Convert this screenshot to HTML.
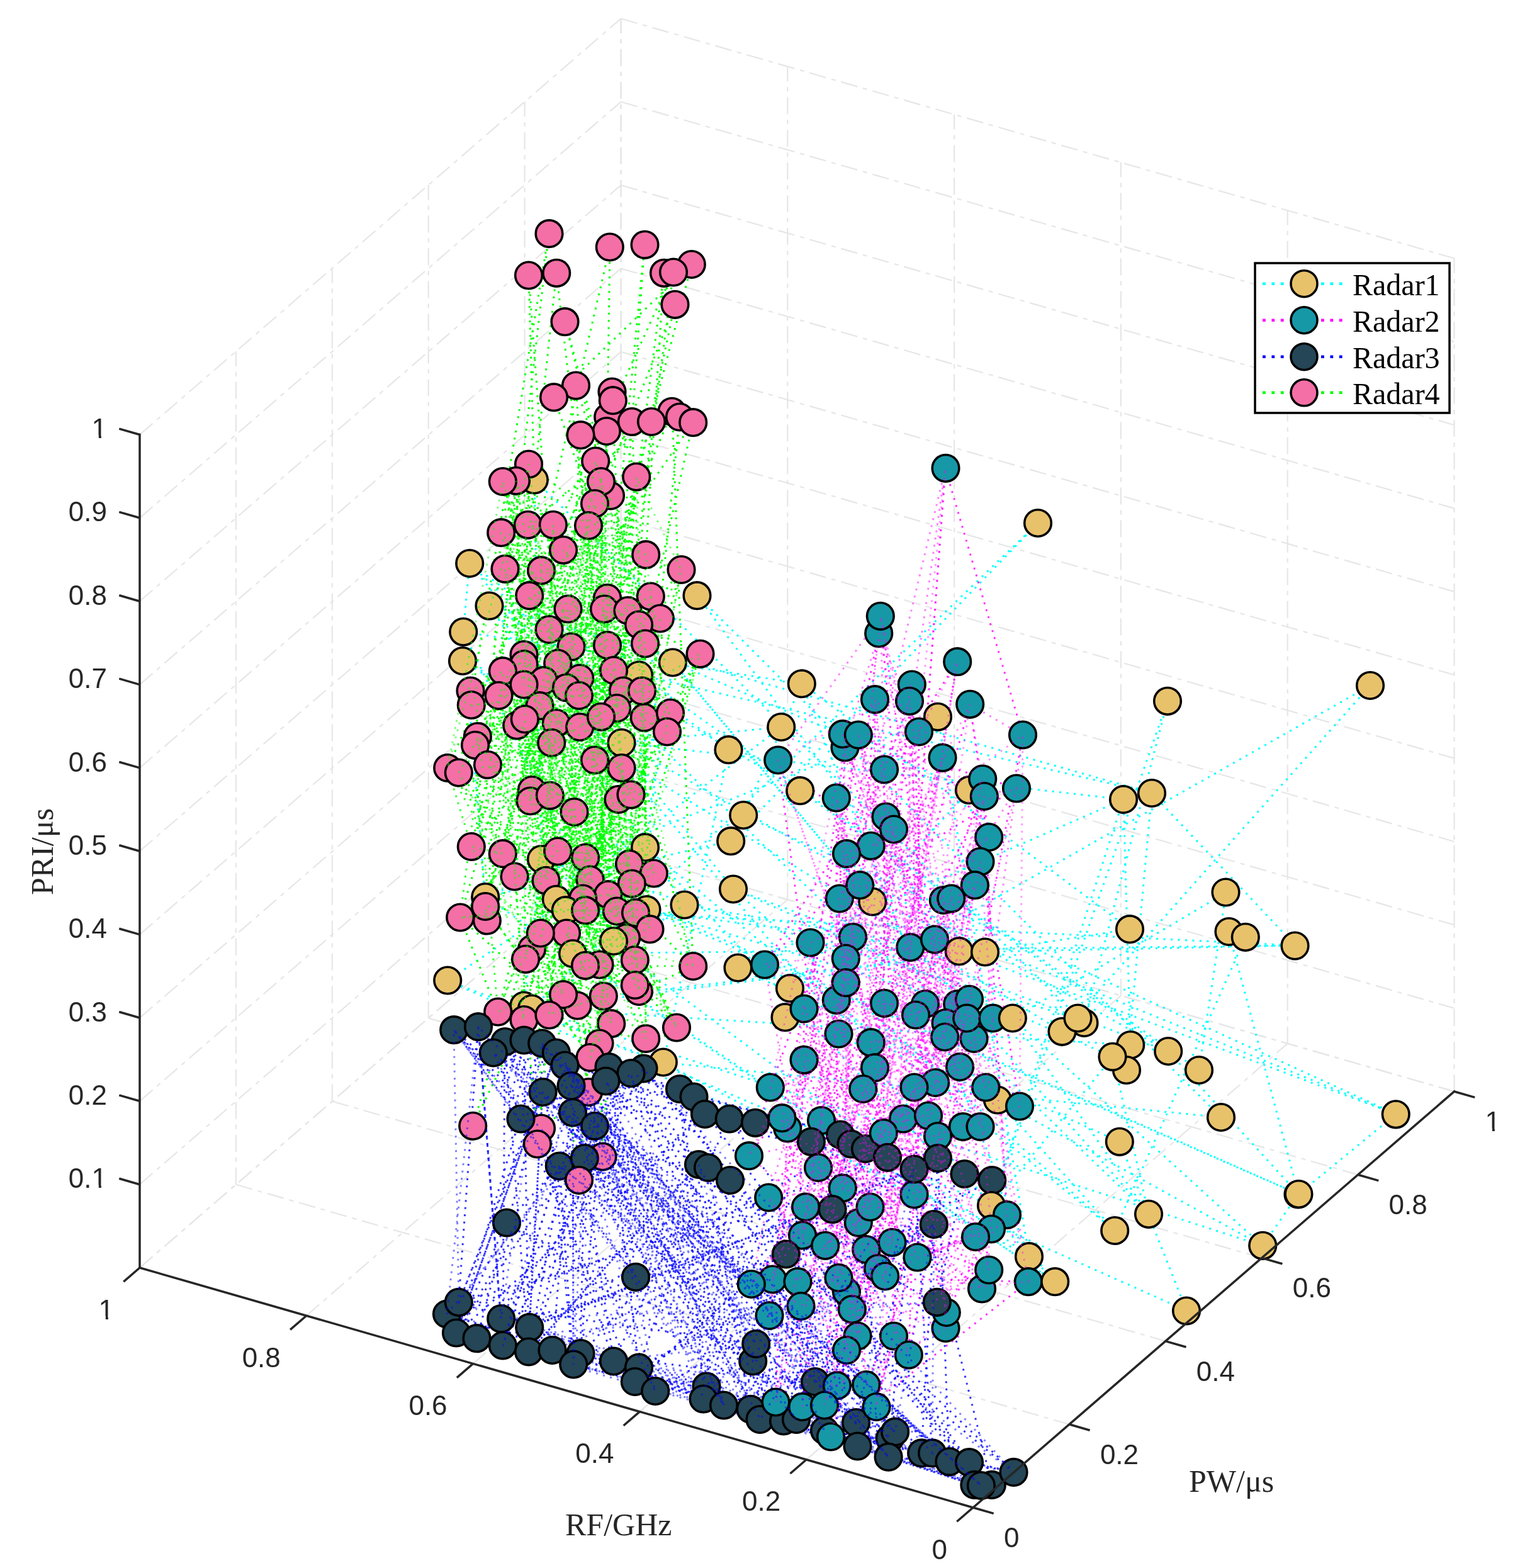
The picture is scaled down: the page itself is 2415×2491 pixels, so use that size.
<!DOCTYPE html>
<html><head><meta charset="utf-8"><title>Radar PDW 3D scatter</title><style>
html,body{margin:0;padding:0;background:#fff;overflow:hidden}
svg{display:block}
.g{stroke:#E6E6E6;stroke-width:2.2;fill:none;stroke-dasharray:27 9 7 9}
.ax{stroke:#262626;stroke-width:3.5;fill:none;stroke-linecap:square}
.tk{stroke:#262626;stroke-width:3.5;fill:none}
.tl{font-family:"Liberation Sans",Arial,sans-serif;font-size:44px;fill:#262626}
.lb{font-family:"Liberation Serif","Times New Roman",serif;font-size:50px;fill:#262626}
.lg{font-family:"Liberation Serif","Times New Roman",serif;font-size:48px;fill:#000}
circle{stroke:#000;stroke-width:3.6}
.y{fill:#E8C26B}
.t{fill:#1798A7}
.d{fill:#244656}
.p{fill:#F46FA6}
.dl{fill:none;stroke-width:3;stroke-dasharray:3 8.5}
.o4{opacity:0.4}
.o5{opacity:0.5}
.o8{opacity:0.8}
</style></head><body>
<svg width="2415" height="2491" viewBox="0 0 2415 2491">
<rect width="2415" height="2491" fill="#fff"/>
<g id="grid"><line class="g" x1="374.9" y1="1881.8" x2="374.9" y2="558.3"/><line class="g" x1="527.8" y1="1749.6" x2="527.8" y2="426.1"/><line class="g" x1="680.7" y1="1617.4" x2="680.7" y2="293.9"/><line class="g" x1="833.6" y1="1485.2" x2="833.6" y2="161.7"/><line class="g" x1="986.5" y1="1353.0" x2="986.5" y2="29.5"/><line class="g" x1="222.0" y1="2014.0" x2="986.5" y2="1353.0"/><line class="g" x1="222.0" y1="1881.7" x2="986.5" y2="1220.7"/><line class="g" x1="222.0" y1="1749.3" x2="986.5" y2="1088.3"/><line class="g" x1="222.0" y1="1617.0" x2="986.5" y2="956.0"/><line class="g" x1="222.0" y1="1484.6" x2="986.5" y2="823.6"/><line class="g" x1="222.0" y1="1352.2" x2="986.5" y2="691.2"/><line class="g" x1="222.0" y1="1219.9" x2="986.5" y2="558.9"/><line class="g" x1="222.0" y1="1087.6" x2="986.5" y2="426.6"/><line class="g" x1="222.0" y1="955.2" x2="986.5" y2="294.2"/><line class="g" x1="222.0" y1="822.8" x2="986.5" y2="161.8"/><line class="g" x1="222.0" y1="690.5" x2="986.5" y2="29.5"/><line class="g" x1="2310.5" y1="1734.0" x2="2310.5" y2="410.5"/><line class="g" x1="2045.7" y1="1657.8" x2="2045.7" y2="334.3"/><line class="g" x1="1780.9" y1="1581.6" x2="1780.9" y2="258.1"/><line class="g" x1="1516.1" y1="1505.4" x2="1516.1" y2="181.9"/><line class="g" x1="1251.3" y1="1429.2" x2="1251.3" y2="105.7"/><line class="g" x1="986.5" y1="1353.0" x2="986.5" y2="29.5"/><line class="g" x1="986.5" y1="1353.0" x2="2310.5" y2="1734.0"/><line class="g" x1="986.5" y1="1220.7" x2="2310.5" y2="1601.7"/><line class="g" x1="986.5" y1="1088.3" x2="2310.5" y2="1469.3"/><line class="g" x1="986.5" y1="956.0" x2="2310.5" y2="1337.0"/><line class="g" x1="986.5" y1="823.6" x2="2310.5" y2="1204.6"/><line class="g" x1="986.5" y1="691.2" x2="2310.5" y2="1072.2"/><line class="g" x1="986.5" y1="558.9" x2="2310.5" y2="939.9"/><line class="g" x1="986.5" y1="426.6" x2="2310.5" y2="807.6"/><line class="g" x1="986.5" y1="294.2" x2="2310.5" y2="675.2"/><line class="g" x1="986.5" y1="161.8" x2="2310.5" y2="542.8"/><line class="g" x1="986.5" y1="29.5" x2="2310.5" y2="410.5"/><line class="g" x1="1546.0" y1="2395.0" x2="2310.5" y2="1734.0"/><line class="g" x1="1281.2" y1="2318.8" x2="2045.7" y2="1657.8"/><line class="g" x1="1016.4" y1="2242.6" x2="1780.9" y2="1581.6"/><line class="g" x1="751.6" y1="2166.4" x2="1516.1" y2="1505.4"/><line class="g" x1="486.8" y1="2090.2" x2="1251.3" y2="1429.2"/><line class="g" x1="222.0" y1="2014.0" x2="986.5" y2="1353.0"/><line class="g" x1="222.0" y1="2014.0" x2="1546.0" y2="2395.0"/><line class="g" x1="374.9" y1="1881.8" x2="1698.9" y2="2262.8"/><line class="g" x1="527.8" y1="1749.6" x2="1851.8" y2="2130.6"/><line class="g" x1="680.7" y1="1617.4" x2="2004.7" y2="1998.4"/><line class="g" x1="833.6" y1="1485.2" x2="2157.6" y2="1866.2"/><line class="g" x1="986.5" y1="1353.0" x2="2310.5" y2="1734.0"/></g>
<g id="lines"><polyline class="dl" stroke="#00FFFF" points="1712,1618 860,1365 849,762 1722,1625 1855,1114 1575,1915 832,1598 2006,1979 2062,1898 2218,1770 1181,1295 1274,1086 1795,1476 1565,1512 845,1602 1649,831 1161,1336 771,1425 1490,1139 1635,1996 899,1446 2058,1502 910,1515 1676,2036 1025,1346 711,1558 1885,2082 1779,1814 1172,1538 1785,1270 1796,1660 1790,1700 1830,1260 1015,1072 1905,1700 1948,1418 1609,1618 1028,1445 2063,1897 1952,1480 1979,1489 1771,1955 1585,1748 1255,1570 1540,1255 1069,1052 1386,1432 1825,1929 1768,1679 1165,1412 1856,1670 1271,1256 778,962 1088,1438 975,1495 736,1004 746,895 1158,1191 1054,1688 1940,1775 1108,946 1524,1511 884,1429 1241,1155 988,1180 735,1050 1688,1639 2177,1089 1248,1616"/>
<polyline class="dl" stroke="#00FFFF" points="711,1558 1054,1688 1635,1996 1274,1086 736,1004 771,1425 1676,2036 778,962 1830,1260 2058,1502 1565,1512 832,1598 860,1365 2063,1897 1856,1670 988,1180 1785,1270 1575,1915 1768,1679 1796,1660 845,1602 1088,1438 1524,1511 2218,1770 1386,1432 1069,1052 1025,1346 1771,1955 1165,1412 746,895 1825,1929 1609,1618 2006,1979 1585,1748"/>
<polyline class="dl o8" stroke="#FF00FF" points="1549,1406 1392,2235 1420,2122 1408,1298 1521,1595 1405,1222 1404,1800 1355,1489 1418,1974 1499,1430 1236,1208 1354,2080 1540,1588 1339,1888 1490,1805 1364,1168 1222,2090 1530,1790 1525,1695 1470,1595 1449,1088 1345,2145 1305,1780 1558,1369 1620,1758 1485,1492 1452,1728 1501,1648 1399,979 1455,1612 1561,1238 1600,1930 1406,2028 1288,1498 1376,2200 1566,1728 1366,1406 1578,1618 1371,1730 1560,2048 1382,1918 1376,1985 1278,1684 1435,1778 1362,2122 1310,2232 1390,1111 1395,2015 1278,1602 1268,2036 1275,2235 1329,1589 1342,1188 1228,2032 1550,1965 1345,2052 1521,1051 1215,1532 1420,1318 1364,1942 1571,2018 1511,1428 1458,1998 1460,1162 1571,1330 1541,1119 1232,2228 1251,1792 1498,1204 1300,1855 1384,1656 1311,1979 1332,1642 1190,1836 1224,1728 1445,1114 1475,1772 1564,1265 1405,1594 1221,1902 1275,1962 1548,1650 1452,1898 1444,2152 1625,1168 1502,744 1446,1505 1344,1522 1345,1356 1280,1918 1242,1776 1396,1006 1272,2075 1575,1952 1504,2085 1502,2110 1384,1344 1339,1166 1615,1252 1334,1428 1536,1618 1194,2040 1502,1625 1390,1696 1332,2030 1634,2036 1320,2282 1486,1720 1330,2201 1329,1268 1344,1561 1558,1790"/>
<polyline class="dl o5" stroke="#FF00FF" points="1222,2090 1405,1222 1399,979 1236,1208 1435,1778 1530,1790 1420,1318 1345,1356 1329,1268 1405,1594 1615,1252 1408,1298 1525,1695 1364,1168 1452,1728 1390,1111 1376,1985 1345,2052 1502,2110 1625,1168 1541,1119 1564,1265 1364,1942 1320,2282 1355,1489 1329,1589 1390,1696 1560,2048 1280,1918 1332,2030 1288,1498 1499,1430 1446,1505 1445,1114 1300,1855 1452,1898 1332,1642 1232,2228 1406,2028 1190,1836 1475,1772 1330,2201 1215,1532 1278,1602 1536,1618 1470,1595 1550,1965 1485,1492 1342,1188 1396,1006 1460,1162 1278,1684 1558,1790 1566,1728 1242,1776 1548,1650 1224,1728 1311,1979 1490,1805 1600,1930 1392,2235 1420,2122 1449,1088 1455,1612 1486,1720 1384,1344 1221,1902 1194,2040 1578,1618 1561,1238 1458,1998 1575,1952 1339,1888 1502,744 1251,1792 1549,1406 1521,1595 1504,2085 1395,2015 1275,2235 1498,1204 1634,2036 1339,1166 1501,1648 1228,2032 1371,1730 1540,1588 1382,1918 1268,2036 1376,2200 1344,1522 1620,1758 1344,1561 1345,2145 1521,1051 1354,2080 1502,1625 1305,1780 1404,1800 1558,1369 1334,1428 1272,2075 1384,1656 1366,1406 1310,2232 1571,1330 1571,2018 1362,2122 1444,2152 1275,1962 1511,1428 1418,1974"/>
<polyline class="dl o8" stroke="#0000FF" points="760,1631 725,2118 884,1672 1010,2029 1110,1850 840,2148 1002,1705 1464,2308 1490,1840 1508,2322 908,1725 975,2162 802,1655 1265,2255 805,1942 725,2118 1002,1705 1310,2272 884,1672 1208,2255 910,1768 840,2148 802,1655 799,2138 760,1631 1422,2275 962,1718 1015,2172 1484,1945 1249,1992 1490,1840 878,2145 910,1768 1245,2258 862,1735 841,2109 1452,1858 729,2069 884,1672 725,2118 861,1658 911,2168 910,1768 1412,2315 929,1840 922,2150 962,1718 725,2118 884,1672 1208,2255 1484,1945 1245,2258 721,1636 1362,2298 1080,1730 758,2126 862,1735 841,2109 1452,1858 1414,2285 945,1789 1611,2339 962,1718 1150,2232 1080,1730 1118,2222 1160,1875 911,2168 889,1852 799,2138 1022,1698 1559,2360 784,1672 1009,2195 1322,1921 1010,2029 721,1636 1559,2360 929,1840 840,2148"/>
<polyline class="dl o8" stroke="#0000FF" points="911,2168 1265,2255 929,1840 884,1672 1412,2315 1508,2322 945,1789 889,1852 805,1942 1414,2285 1335,1802 721,1636 1200,1784 1352,1818 841,2109 1322,1921 1009,2195 1295,2195 878,2145 1548,2359 922,2150 1464,2308 1118,2222 1310,2272 1122,2202 796,2095 1002,1705 1196,2162 1576,2359 1452,1858 1481,2308 1611,2339 1208,2255 1532,1865 1489,2069 910,1768 760,1631 799,2138 1022,1698 1540,2323 1159,1778 975,2162 1150,2232 832,1652 840,2148 1110,1850 968,1695 1010,2029 1362,2298 828,1778 1160,1875 1249,1992 784,1672 1080,1730 861,1658 962,1718 1375,1825 1245,2258 898,1692 1201,2135 729,2069 862,1735 1576,1875 1015,2172 1125,1855 1192,2239 1410,1839 710,2088 1559,2360 1102,1742 1490,1840 1360,2260 758,2126 1120,1770 725,2118 1484,1945 1041,2210 802,1655 1422,2275 908,1725 1289,1814"/>
<polyline class="dl o5" stroke="#0000FF" points="1362,2298 1611,2339 1310,2272 922,2150 975,2162 729,2069 1464,2308 1508,2322 710,2088 1422,2275 796,2095 1489,2069 758,2126 725,2118 1412,2315 1009,2195 911,2168 1201,2135 1295,2195 1015,2172 1481,2308 1249,1992 878,2145 840,2148 1540,2323 1576,2359 1118,2222 799,2138 1192,2239 1548,2359 1150,2232 841,2109 1559,2360 1265,2255 1196,2162 1122,2202 1414,2285 1041,2210 1010,2029 1245,2258 1208,2255 1360,2260"/>
<polyline class="dl" stroke="#00FF00" points="748,1098 955,1139 1010,1450 1009,1525 799,1356 858,1121 1075,1632 860,1792 840,738 821,1152 920,1875 1024,389 930,1362 1032,1476 1020,1098 845,1508 1009,1565 874,1264 832,1088 945,800 755,1184 980,1125 959,1582 1034,948 835,1524 1025,1022 1026,1650 1024,1140 1004,670 799,1066 834,1142 820,764 792,1105 964,685 930,1534 998,970 880,631 1099,420 920,1105 972,622 1002,1262 859,1482 955,765 1049,982 921,1155 1011,758 974,636 921,1078 854,1818 818,1392 774,1462 884,434 982,1270 900,1482 711,1220 1070,432 918,1598 902,968 771,1440 938,1680 1039,1388 791,1608 965,950 971,1626 935,835 895,1580 860,906 1060,1162 960,968 886,1054 900,1092 922,691 1080,662 1004,1404 868,1399 990,1098 938,1398 1101,671 759,1170 864,1081 832,1055 966,1421 915,612 970,788 845,1255 884,1149 832,1040 935,1735 840,438 872,1612 995,1490 799,765 841,946 749,1120 975,1065 895,874 839,834 1035,670 988,1220 958,1838 952,1658 731,1458 966,662 926,1428 1055,434 1026,881 751,1789 1112,1039 1015,992 898,511 1065,1132 965,1025 832,1620 1072,484 872,1000 879,834 802,904 886,1352 952,1532 969,392 749,1345 946,732 1015,1575 1101,1535 1068,654 908,1028 980,1448 842,1272 729,1228 872,371 775,1215 796,846 945,1208 1000,1372 912,1290 930,1446 1082,905 876,1180"/>
<polyline class="dl" stroke="#00FF00" points="771,1440 748,1098 921,1078 796,846 1065,1132 832,1620 841,946 872,1000 842,1272 945,800 874,1264 895,1580 832,1088 918,1598 749,1120 729,1228 868,1399 1075,1632 834,1142 818,1392 926,1428 1011,758 952,1658 960,968 935,835 980,1448 845,1508 930,1446 998,970 990,1098 821,1152 995,1490 1049,982 965,1025 1101,1535 930,1362 774,1462 792,1105 859,1482 1002,1262 858,1121 946,732 759,1170 1024,1140 1025,1022 820,764 884,1149 864,1081 955,1139 845,1255 832,1055 802,904 1020,1098 902,968 1034,948 938,1398 1032,1476 799,1066 952,1532 966,1421 1010,1450 1009,1525 749,1345 975,1065 921,1155 1015,992 1000,1372 1015,1575 895,874 1082,905 938,1680 930,1534 1112,1039 1004,1404 900,1092 1026,1650 886,1352 832,1040 971,1626 959,1582 955,765 799,1356 879,834 945,1208 731,1458 791,1608 912,1290 900,1482 965,950 908,1028 1026,881 886,1054 755,1184 988,1220 982,1270 980,1125 839,834 840,738 775,1215 1039,1388 711,1220 1009,1565 835,1524 1060,1162 970,788 860,906 799,765 872,1612 920,1105 876,1180"/>
<polyline class="dl o8" stroke="#00FF00" points="1034,948 1020,1098 900,1482 1039,1388 966,1421 1009,1565 886,1054 859,1482 1009,1525 998,970 952,1532 1000,1372 975,1065 930,1362 1112,1039 799,1356 886,1352 839,834 938,1398 1060,1162 832,1088 1002,1262 930,1534 1101,1535 796,846 935,835 749,1345 711,1220 952,1658 921,1078 821,1152 842,1272 860,906 876,1180 774,1462 832,1040 900,1092 930,1446 799,765 872,1000 749,1120 912,1290 874,1264 845,1508 820,764 731,1458 945,1208 902,968 771,1440 938,1680 799,1066 926,1428 895,874 832,1055 845,1255 918,1598 955,765 895,1580 955,1139 729,1228 965,950 1024,1140 921,1155 858,1121 1004,1404 1025,1022 802,904 1015,1575 792,1105 818,1392 864,1081 1032,1476 840,738 1026,881 1010,1450 759,1170 1075,1632 834,1142 884,1149 920,1105 970,788 988,1220 982,1270 995,1490 1015,992 748,1098 960,968 879,834 1082,905 990,1098 755,1184 791,1608 1049,982 971,1626 835,1524 959,1582 1026,1650 832,1620 872,1612 946,732 965,1025 1011,758 980,1125 841,946 868,1399 945,800 980,1448 1065,1132 775,1215 908,1028"/></g>
<g id="pts"><circle class="d" cx="1192.5" cy="2238.8" r="21.3"/>
<circle class="d" cx="1207.5" cy="2255.0" r="21.3"/>
<circle class="d" cx="1245.0" cy="2257.5" r="21.3"/>
<circle class="d" cx="1265.0" cy="2255.0" r="21.3"/>
<circle class="d" cx="1310.0" cy="2272.5" r="21.3"/>
<circle class="d" cx="1360.0" cy="2260.0" r="21.3"/>
<circle class="d" cx="1413.7" cy="2285.3" r="21.3"/>
<circle class="d" cx="1422.1" cy="2274.7" r="21.3"/>
<circle class="p" cx="872.5" cy="371.2" r="21.3"/>
<circle class="p" cx="968.8" cy="392.5" r="21.3"/>
<circle class="p" cx="1024.5" cy="388.8" r="21.3"/>
<circle class="p" cx="840.0" cy="437.5" r="21.3"/>
<circle class="p" cx="884.2" cy="433.8" r="21.3"/>
<circle class="p" cx="1098.8" cy="420.0" r="21.3"/>
<circle class="p" cx="1055.0" cy="433.8" r="21.3"/>
<circle class="p" cx="1070.0" cy="432.5" r="21.3"/>
<circle class="p" cx="1072.5" cy="483.8" r="21.3"/>
<circle class="p" cx="897.5" cy="511.2" r="21.3"/>
<circle class="p" cx="915.0" cy="612.5" r="21.3"/>
<circle class="p" cx="880.0" cy="631.2" r="21.3"/>
<circle class="p" cx="972.5" cy="622.5" r="21.3"/>
<circle class="p" cx="966.2" cy="662.5" r="21.3"/>
<circle class="p" cx="973.8" cy="636.2" r="21.3"/>
<circle class="p" cx="1067.5" cy="653.8" r="21.3"/>
<circle class="p" cx="1080.0" cy="662.5" r="21.3"/>
<circle class="p" cx="1101.2" cy="671.2" r="21.3"/>
<circle class="p" cx="1003.8" cy="670.0" r="21.3"/>
<circle class="p" cx="1035.0" cy="670.0" r="21.3"/>
<circle class="p" cx="963.8" cy="685.0" r="21.3"/>
<circle class="p" cx="922.5" cy="691.2" r="21.3"/>
<circle class="y" cx="848.8" cy="762.5" r="21.3"/>
<circle class="p" cx="840.0" cy="737.5" r="21.3"/>
<circle class="p" cx="820.0" cy="763.8" r="21.3"/>
<circle class="p" cx="798.8" cy="765.0" r="21.3"/>
<circle class="p" cx="946.2" cy="732.5" r="21.3"/>
<circle class="p" cx="970.0" cy="787.5" r="21.3"/>
<circle class="p" cx="955.0" cy="765.0" r="21.3"/>
<circle class="p" cx="1011.2" cy="757.5" r="21.3"/>
<circle class="p" cx="945.0" cy="800.0" r="21.3"/>
<circle class="t" cx="1502.5" cy="743.8" r="21.3"/>
<circle class="y" cx="1649.0" cy="831.0" r="21.3"/>
<circle class="p" cx="796.2" cy="846.2" r="21.3"/>
<circle class="p" cx="838.8" cy="833.8" r="21.3"/>
<circle class="p" cx="878.8" cy="833.8" r="21.3"/>
<circle class="p" cx="935.0" cy="835.0" r="21.3"/>
<circle class="p" cx="895.0" cy="873.8" r="21.3"/>
<circle class="p" cx="1026.2" cy="881.2" r="21.3"/>
<circle class="p" cx="1082.5" cy="905.0" r="21.3"/>
<circle class="y" cx="746.2" cy="895.0" r="21.3"/>
<circle class="p" cx="802.5" cy="903.8" r="21.3"/>
<circle class="p" cx="860.0" cy="906.2" r="21.3"/>
<circle class="y" cx="1107.5" cy="946.2" r="21.3"/>
<circle class="p" cx="1033.8" cy="947.5" r="21.3"/>
<circle class="p" cx="841.2" cy="946.2" r="21.3"/>
<circle class="y" cx="777.5" cy="962.5" r="21.3"/>
<circle class="p" cx="965.0" cy="950.0" r="21.3"/>
<circle class="p" cx="902.5" cy="967.5" r="21.3"/>
<circle class="p" cx="960.0" cy="967.5" r="21.3"/>
<circle class="p" cx="997.5" cy="970.0" r="21.3"/>
<circle class="p" cx="1048.8" cy="982.5" r="21.3"/>
<circle class="p" cx="1015.0" cy="992.5" r="21.3"/>
<circle class="p" cx="872.5" cy="1000.0" r="21.3"/>
<circle class="y" cx="736.2" cy="1003.8" r="21.3"/>
<circle class="y" cx="735.0" cy="1050.0" r="21.3"/>
<circle class="p" cx="1025.0" cy="1022.5" r="21.3"/>
<circle class="p" cx="965.0" cy="1025.0" r="21.3"/>
<circle class="p" cx="907.5" cy="1027.5" r="21.3"/>
<circle class="p" cx="832.5" cy="1040.0" r="21.3"/>
<circle class="p" cx="832.5" cy="1055.0" r="21.3"/>
<circle class="p" cx="886.2" cy="1053.8" r="21.3"/>
<circle class="y" cx="1068.8" cy="1052.5" r="21.3"/>
<circle class="p" cx="1112.5" cy="1038.8" r="21.3"/>
<circle class="y" cx="1015.0" cy="1072.5" r="21.3"/>
<circle class="p" cx="975.0" cy="1065.0" r="21.3"/>
<circle class="p" cx="798.8" cy="1066.2" r="21.3"/>
<circle class="p" cx="863.8" cy="1081.2" r="21.3"/>
<circle class="p" cx="921.2" cy="1077.5" r="21.3"/>
<circle class="p" cx="832.5" cy="1087.5" r="21.3"/>
<circle class="p" cx="900.0" cy="1092.5" r="21.3"/>
<circle class="p" cx="920.0" cy="1105.0" r="21.3"/>
<circle class="p" cx="990.0" cy="1097.5" r="21.3"/>
<circle class="p" cx="1020.0" cy="1097.5" r="21.3"/>
<circle class="p" cx="747.5" cy="1097.5" r="21.3"/>
<circle class="p" cx="748.8" cy="1120.0" r="21.3"/>
<circle class="p" cx="792.5" cy="1105.0" r="21.3"/>
<circle class="p" cx="857.5" cy="1121.2" r="21.3"/>
<circle class="p" cx="821.2" cy="1152.5" r="21.3"/>
<circle class="p" cx="833.8" cy="1142.5" r="21.3"/>
<circle class="p" cx="883.8" cy="1148.8" r="21.3"/>
<circle class="p" cx="921.2" cy="1155.0" r="21.3"/>
<circle class="p" cx="980.0" cy="1125.0" r="21.3"/>
<circle class="p" cx="955.0" cy="1138.8" r="21.3"/>
<circle class="p" cx="1023.8" cy="1140.0" r="21.3"/>
<circle class="p" cx="1065.0" cy="1132.5" r="21.3"/>
<circle class="p" cx="1060.0" cy="1162.5" r="21.3"/>
<circle class="p" cx="876.2" cy="1180.0" r="21.3"/>
<circle class="p" cx="758.8" cy="1170.0" r="21.3"/>
<circle class="p" cx="755.0" cy="1183.8" r="21.3"/>
<circle class="y" cx="987.5" cy="1180.0" r="21.3"/>
<circle class="p" cx="945.0" cy="1207.5" r="21.3"/>
<circle class="p" cx="987.5" cy="1220.0" r="21.3"/>
<circle class="p" cx="711.2" cy="1220.0" r="21.3"/>
<circle class="p" cx="728.8" cy="1227.5" r="21.3"/>
<circle class="p" cx="775.0" cy="1215.0" r="21.3"/>
<circle class="p" cx="845.0" cy="1255.0" r="21.3"/>
<circle class="p" cx="842.5" cy="1272.5" r="21.3"/>
<circle class="p" cx="873.8" cy="1263.8" r="21.3"/>
<circle class="p" cx="912.5" cy="1290.0" r="21.3"/>
<circle class="p" cx="982.5" cy="1270.0" r="21.3"/>
<circle class="p" cx="1002.5" cy="1262.5" r="21.3"/>
<circle class="t" cx="1396.2" cy="1006.2" r="21.3"/>
<circle class="t" cx="1398.8" cy="978.8" r="21.3"/>
<circle class="t" cx="1521.2" cy="1051.2" r="21.3"/>
<circle class="y" cx="1273.8" cy="1086.2" r="21.3"/>
<circle class="t" cx="1390.0" cy="1111.2" r="21.3"/>
<circle class="t" cx="1448.8" cy="1087.5" r="21.3"/>
<circle class="t" cx="1445.0" cy="1113.8" r="21.3"/>
<circle class="y" cx="1490.0" cy="1138.8" r="21.3"/>
<circle class="t" cx="1541.2" cy="1118.8" r="21.3"/>
<circle class="t" cx="1460.0" cy="1162.5" r="21.3"/>
<circle class="y" cx="1241.2" cy="1155.0" r="21.3"/>
<circle class="y" cx="1157.5" cy="1191.2" r="21.3"/>
<circle class="t" cx="1342.5" cy="1187.5" r="21.3"/>
<circle class="t" cx="1338.8" cy="1166.2" r="21.3"/>
<circle class="t" cx="1363.8" cy="1167.5" r="21.3"/>
<circle class="t" cx="1236.2" cy="1207.5" r="21.3"/>
<circle class="t" cx="1497.5" cy="1203.8" r="21.3"/>
<circle class="t" cx="1405.0" cy="1222.5" r="21.3"/>
<circle class="y" cx="1540.0" cy="1255.0" r="21.3"/>
<circle class="t" cx="1561.2" cy="1237.5" r="21.3"/>
<circle class="t" cx="1563.8" cy="1265.0" r="21.3"/>
<circle class="y" cx="1271.2" cy="1256.2" r="21.3"/>
<circle class="t" cx="1328.8" cy="1267.5" r="21.3"/>
<circle class="t" cx="1625.0" cy="1167.5" r="21.3"/>
<circle class="t" cx="1615.0" cy="1252.5" r="21.3"/>
<circle class="y" cx="1855.0" cy="1113.8" r="21.3"/>
<circle class="y" cx="1785.0" cy="1270.0" r="21.3"/>
<circle class="y" cx="1830.0" cy="1260.0" r="21.3"/>
<circle class="y" cx="2177.0" cy="1089.0" r="21.3"/>
<circle class="p" cx="748.8" cy="1345.0" r="21.3"/>
<circle class="p" cx="798.8" cy="1356.2" r="21.3"/>
<circle class="p" cx="817.5" cy="1392.5" r="21.3"/>
<circle class="y" cx="860.0" cy="1365.0" r="21.3"/>
<circle class="p" cx="886.2" cy="1352.5" r="21.3"/>
<circle class="p" cx="930.0" cy="1362.5" r="21.3"/>
<circle class="y" cx="1025.0" cy="1346.2" r="21.3"/>
<circle class="p" cx="1000.0" cy="1372.5" r="21.3"/>
<circle class="p" cx="1038.8" cy="1387.5" r="21.3"/>
<circle class="p" cx="867.5" cy="1398.8" r="21.3"/>
<circle class="p" cx="937.5" cy="1397.5" r="21.3"/>
<circle class="p" cx="1003.8" cy="1403.8" r="21.3"/>
<circle class="p" cx="966.2" cy="1421.2" r="21.3"/>
<circle class="y" cx="771.2" cy="1425.0" r="21.3"/>
<circle class="p" cx="773.8" cy="1462.5" r="21.3"/>
<circle class="p" cx="771.2" cy="1440.0" r="21.3"/>
<circle class="p" cx="731.2" cy="1457.5" r="21.3"/>
<circle class="y" cx="883.8" cy="1428.8" r="21.3"/>
<circle class="p" cx="926.2" cy="1427.5" r="21.3"/>
<circle class="y" cx="898.8" cy="1446.2" r="21.3"/>
<circle class="p" cx="930.0" cy="1446.2" r="21.3"/>
<circle class="y" cx="1027.5" cy="1445.0" r="21.3"/>
<circle class="p" cx="980.0" cy="1447.5" r="21.3"/>
<circle class="p" cx="1010.0" cy="1450.0" r="21.3"/>
<circle class="y" cx="1087.5" cy="1437.5" r="21.3"/>
<circle class="p" cx="1032.5" cy="1476.2" r="21.3"/>
<circle class="p" cx="900.0" cy="1482.5" r="21.3"/>
<circle class="p" cx="845.0" cy="1507.5" r="21.3"/>
<circle class="p" cx="835.0" cy="1523.8" r="21.3"/>
<circle class="p" cx="858.8" cy="1482.5" r="21.3"/>
<circle class="p" cx="995.0" cy="1490.0" r="21.3"/>
<circle class="y" cx="975.0" cy="1495.0" r="21.3"/>
<circle class="y" cx="910.0" cy="1515.0" r="21.3"/>
<circle class="p" cx="952.5" cy="1532.5" r="21.3"/>
<circle class="p" cx="930.0" cy="1533.8" r="21.3"/>
<circle class="p" cx="1008.8" cy="1525.0" r="21.3"/>
<circle class="p" cx="1015.0" cy="1575.0" r="21.3"/>
<circle class="p" cx="1008.8" cy="1565.0" r="21.3"/>
<circle class="p" cx="1101.2" cy="1535.0" r="21.3"/>
<circle class="y" cx="711.2" cy="1557.5" r="21.3"/>
<circle class="p" cx="917.5" cy="1597.5" r="21.3"/>
<circle class="p" cx="895.0" cy="1580.0" r="21.3"/>
<circle class="p" cx="958.8" cy="1582.5" r="21.3"/>
<circle class="y" cx="832.5" cy="1597.5" r="21.3"/>
<circle class="y" cx="845.0" cy="1602.5" r="21.3"/>
<circle class="p" cx="791.2" cy="1607.5" r="21.3"/>
<circle class="p" cx="832.5" cy="1620.0" r="21.3"/>
<circle class="p" cx="872.5" cy="1612.5" r="21.3"/>
<circle class="p" cx="971.2" cy="1626.2" r="21.3"/>
<circle class="p" cx="1075.0" cy="1632.5" r="21.3"/>
<circle class="p" cx="1026.2" cy="1650.0" r="21.3"/>
<circle class="d" cx="721.2" cy="1636.2" r="21.3"/>
<circle class="d" cx="760.0" cy="1631.2" r="21.3"/>
<circle class="d" cx="802.5" cy="1655.0" r="21.3"/>
<circle class="d" cx="783.8" cy="1672.5" r="21.3"/>
<circle class="d" cx="832.5" cy="1652.5" r="21.3"/>
<circle class="d" cx="861.2" cy="1657.5" r="21.3"/>
<circle class="d" cx="883.8" cy="1672.5" r="21.3"/>
<circle class="p" cx="952.5" cy="1657.5" r="21.3"/>
<circle class="p" cx="937.5" cy="1680.0" r="21.3"/>
<circle class="d" cx="897.5" cy="1692.5" r="21.3"/>
<circle class="y" cx="1053.8" cy="1687.5" r="21.3"/>
<circle class="d" cx="1022.5" cy="1697.5" r="21.3"/>
<circle class="d" cx="967.5" cy="1695.0" r="21.3"/>
<circle class="d" cx="1002.5" cy="1705.0" r="21.3"/>
<circle class="p" cx="935.0" cy="1735.0" r="21.3"/>
<circle class="d" cx="962.5" cy="1717.5" r="21.3"/>
<circle class="d" cx="907.5" cy="1725.0" r="21.3"/>
<circle class="d" cx="862.5" cy="1735.0" r="21.3"/>
<circle class="d" cx="1080.0" cy="1730.0" r="21.3"/>
<circle class="d" cx="1102.5" cy="1742.5" r="21.3"/>
<circle class="y" cx="1181.2" cy="1295.0" r="21.3"/>
<circle class="y" cx="1161.2" cy="1336.2" r="21.3"/>
<circle class="y" cx="1165.0" cy="1412.5" r="21.3"/>
<circle class="t" cx="1407.5" cy="1297.5" r="21.3"/>
<circle class="t" cx="1420.0" cy="1317.5" r="21.3"/>
<circle class="t" cx="1383.8" cy="1343.8" r="21.3"/>
<circle class="t" cx="1345.0" cy="1356.2" r="21.3"/>
<circle class="t" cx="1571.2" cy="1330.0" r="21.3"/>
<circle class="t" cx="1557.5" cy="1368.8" r="21.3"/>
<circle class="t" cx="1548.8" cy="1406.2" r="21.3"/>
<circle class="t" cx="1498.8" cy="1430.0" r="21.3"/>
<circle class="t" cx="1511.2" cy="1427.5" r="21.3"/>
<circle class="y" cx="1386.2" cy="1432.5" r="21.3"/>
<circle class="t" cx="1333.8" cy="1427.5" r="21.3"/>
<circle class="t" cx="1366.2" cy="1406.2" r="21.3"/>
<circle class="t" cx="1287.5" cy="1497.5" r="21.3"/>
<circle class="t" cx="1355.0" cy="1488.8" r="21.3"/>
<circle class="t" cx="1343.8" cy="1522.5" r="21.3"/>
<circle class="t" cx="1328.8" cy="1588.8" r="21.3"/>
<circle class="t" cx="1343.8" cy="1561.2" r="21.3"/>
<circle class="t" cx="1446.2" cy="1505.0" r="21.3"/>
<circle class="t" cx="1485.0" cy="1492.5" r="21.3"/>
<circle class="y" cx="1523.8" cy="1511.2" r="21.3"/>
<circle class="y" cx="1565.0" cy="1512.5" r="21.3"/>
<circle class="y" cx="1172.5" cy="1537.5" r="21.3"/>
<circle class="t" cx="1215.0" cy="1532.5" r="21.3"/>
<circle class="y" cx="1255.0" cy="1570.0" r="21.3"/>
<circle class="y" cx="1247.5" cy="1616.2" r="21.3"/>
<circle class="t" cx="1277.5" cy="1602.5" r="21.3"/>
<circle class="t" cx="1405.0" cy="1593.8" r="21.3"/>
<circle class="t" cx="1470.0" cy="1595.0" r="21.3"/>
<circle class="t" cx="1455.0" cy="1612.5" r="21.3"/>
<circle class="t" cx="1521.2" cy="1595.0" r="21.3"/>
<circle class="t" cx="1540.0" cy="1587.5" r="21.3"/>
<circle class="t" cx="1502.5" cy="1625.0" r="21.3"/>
<circle class="t" cx="1501.2" cy="1647.5" r="21.3"/>
<circle class="t" cx="1547.5" cy="1650.0" r="21.3"/>
<circle class="t" cx="1536.2" cy="1617.5" r="21.3"/>
<circle class="t" cx="1577.5" cy="1617.5" r="21.3"/>
<circle class="y" cx="1608.8" cy="1617.5" r="21.3"/>
<circle class="t" cx="1332.5" cy="1642.5" r="21.3"/>
<circle class="t" cx="1383.8" cy="1656.2" r="21.3"/>
<circle class="t" cx="1277.5" cy="1683.8" r="21.3"/>
<circle class="t" cx="1390.0" cy="1696.2" r="21.3"/>
<circle class="t" cx="1525.0" cy="1695.0" r="21.3"/>
<circle class="t" cx="1486.2" cy="1720.0" r="21.3"/>
<circle class="t" cx="1452.5" cy="1727.5" r="21.3"/>
<circle class="t" cx="1371.2" cy="1730.0" r="21.3"/>
<circle class="t" cx="1223.8" cy="1727.5" r="21.3"/>
<circle class="y" cx="1585.0" cy="1747.5" r="21.3"/>
<circle class="t" cx="1566.2" cy="1727.5" r="21.3"/>
<circle class="y" cx="1947.5" cy="1417.5" r="21.3"/>
<circle class="y" cx="1795.0" cy="1476.2" r="21.3"/>
<circle class="y" cx="1952.5" cy="1480.0" r="21.3"/>
<circle class="y" cx="1978.8" cy="1488.8" r="21.3"/>
<circle class="y" cx="2057.5" cy="1502.5" r="21.3"/>
<circle class="y" cx="1722.5" cy="1625.0" r="21.3"/>
<circle class="y" cx="1687.5" cy="1638.8" r="21.3"/>
<circle class="y" cx="1712.5" cy="1617.5" r="21.3"/>
<circle class="y" cx="1796.2" cy="1660.0" r="21.3"/>
<circle class="y" cx="1790.0" cy="1700.0" r="21.3"/>
<circle class="y" cx="1767.5" cy="1678.8" r="21.3"/>
<circle class="y" cx="1856.2" cy="1670.0" r="21.3"/>
<circle class="y" cx="1905.0" cy="1700.0" r="21.3"/>
<circle class="t" cx="1620.0" cy="1757.5" r="21.3"/>
<circle class="p" cx="751.2" cy="1788.8" r="21.3"/>
<circle class="p" cx="860.0" cy="1792.5" r="21.3"/>
<circle class="d" cx="827.5" cy="1777.5" r="21.3"/>
<circle class="p" cx="853.8" cy="1817.5" r="21.3"/>
<circle class="d" cx="910.0" cy="1767.5" r="21.3"/>
<circle class="d" cx="945.0" cy="1788.8" r="21.3"/>
<circle class="p" cx="957.5" cy="1837.5" r="21.3"/>
<circle class="d" cx="888.8" cy="1852.5" r="21.3"/>
<circle class="d" cx="928.8" cy="1840.0" r="21.3"/>
<circle class="p" cx="920.0" cy="1875.0" r="21.3"/>
<circle class="d" cx="805.0" cy="1942.5" r="21.3"/>
<circle class="d" cx="1010.0" cy="2028.8" r="21.3"/>
<circle class="d" cx="1120.0" cy="1770.0" r="21.3"/>
<circle class="d" cx="1110.0" cy="1850.0" r="21.3"/>
<circle class="d" cx="1125.0" cy="1855.0" r="21.3"/>
<circle class="d" cx="710.0" cy="2087.5" r="21.3"/>
<circle class="d" cx="728.8" cy="2068.8" r="21.3"/>
<circle class="d" cx="725.0" cy="2117.5" r="21.3"/>
<circle class="d" cx="757.5" cy="2126.2" r="21.3"/>
<circle class="d" cx="796.2" cy="2095.0" r="21.3"/>
<circle class="d" cx="798.8" cy="2137.5" r="21.3"/>
<circle class="d" cx="841.2" cy="2108.8" r="21.3"/>
<circle class="d" cx="840.0" cy="2147.5" r="21.3"/>
<circle class="d" cx="877.5" cy="2145.0" r="21.3"/>
<circle class="d" cx="922.5" cy="2150.0" r="21.3"/>
<circle class="d" cx="911.2" cy="2167.5" r="21.3"/>
<circle class="d" cx="975.0" cy="2162.5" r="21.3"/>
<circle class="d" cx="1015.0" cy="2172.5" r="21.3"/>
<circle class="d" cx="1008.8" cy="2195.0" r="21.3"/>
<circle class="d" cx="1041.2" cy="2210.0" r="21.3"/>
<circle class="d" cx="1122.5" cy="2202.5" r="21.3"/>
<circle class="d" cx="1117.5" cy="2222.5" r="21.3"/>
<circle class="d" cx="1158.8" cy="1777.5" r="21.3"/>
<circle class="d" cx="1200.0" cy="1783.8" r="21.3"/>
<circle class="t" cx="1251.2" cy="1792.5" r="21.3"/>
<circle class="t" cx="1242.5" cy="1776.2" r="21.3"/>
<circle class="t" cx="1305.0" cy="1780.0" r="21.3"/>
<circle class="d" cx="1335.0" cy="1802.5" r="21.3"/>
<circle class="d" cx="1352.5" cy="1817.5" r="21.3"/>
<circle class="d" cx="1288.8" cy="1813.8" r="21.3"/>
<circle class="d" cx="1375.0" cy="1825.0" r="21.3"/>
<circle class="t" cx="1435.0" cy="1777.5" r="21.3"/>
<circle class="t" cx="1475.0" cy="1772.5" r="21.3"/>
<circle class="t" cx="1403.8" cy="1800.0" r="21.3"/>
<circle class="d" cx="1410.0" cy="1838.8" r="21.3"/>
<circle class="t" cx="1490.0" cy="1805.0" r="21.3"/>
<circle class="d" cx="1490.0" cy="1840.0" r="21.3"/>
<circle class="t" cx="1452.5" cy="1897.5" r="21.3"/>
<circle class="d" cx="1452.5" cy="1857.5" r="21.3"/>
<circle class="t" cx="1530.0" cy="1790.0" r="21.3"/>
<circle class="t" cx="1557.5" cy="1790.0" r="21.3"/>
<circle class="d" cx="1532.5" cy="1865.0" r="21.3"/>
<circle class="d" cx="1576.2" cy="1875.0" r="21.3"/>
<circle class="t" cx="1190.0" cy="1836.2" r="21.3"/>
<circle class="d" cx="1160.0" cy="1875.0" r="21.3"/>
<circle class="t" cx="1221.2" cy="1902.5" r="21.3"/>
<circle class="t" cx="1300.0" cy="1855.0" r="21.3"/>
<circle class="t" cx="1338.8" cy="1887.5" r="21.3"/>
<circle class="t" cx="1280.0" cy="1917.5" r="21.3"/>
<circle class="d" cx="1322.5" cy="1921.2" r="21.3"/>
<circle class="t" cx="1363.8" cy="1942.5" r="21.3"/>
<circle class="t" cx="1382.5" cy="1917.5" r="21.3"/>
<circle class="t" cx="1275.0" cy="1962.5" r="21.3"/>
<circle class="t" cx="1311.2" cy="1978.8" r="21.3"/>
<circle class="t" cx="1376.2" cy="1985.0" r="21.3"/>
<circle class="t" cx="1417.5" cy="1973.8" r="21.3"/>
<circle class="t" cx="1457.5" cy="1997.5" r="21.3"/>
<circle class="d" cx="1483.8" cy="1945.0" r="21.3"/>
<circle class="y" cx="1575.0" cy="1915.0" r="21.3"/>
<circle class="t" cx="1600.0" cy="1930.0" r="21.3"/>
<circle class="t" cx="1575.0" cy="1952.5" r="21.3"/>
<circle class="t" cx="1550.0" cy="1965.0" r="21.3"/>
<circle class="d" cx="1248.8" cy="1992.5" r="21.3"/>
<circle class="t" cx="1227.5" cy="2032.5" r="21.3"/>
<circle class="t" cx="1193.8" cy="2040.0" r="21.3"/>
<circle class="t" cx="1267.5" cy="2036.2" r="21.3"/>
<circle class="t" cx="1345.0" cy="2052.5" r="21.3"/>
<circle class="t" cx="1332.5" cy="2030.0" r="21.3"/>
<circle class="t" cx="1395.0" cy="2015.0" r="21.3"/>
<circle class="t" cx="1406.2" cy="2027.5" r="21.3"/>
<circle class="t" cx="1353.8" cy="2080.0" r="21.3"/>
<circle class="t" cx="1272.5" cy="2075.0" r="21.3"/>
<circle class="t" cx="1222.5" cy="2090.0" r="21.3"/>
<circle class="t" cx="1560.0" cy="2047.5" r="21.3"/>
<circle class="t" cx="1571.2" cy="2017.5" r="21.3"/>
<circle class="t" cx="1502.5" cy="2110.0" r="21.3"/>
<circle class="t" cx="1503.8" cy="2085.0" r="21.3"/>
<circle class="d" cx="1488.8" cy="2068.8" r="21.3"/>
<circle class="d" cx="1196.2" cy="2162.5" r="21.3"/>
<circle class="d" cx="1201.2" cy="2135.0" r="21.3"/>
<circle class="t" cx="1362.5" cy="2122.5" r="21.3"/>
<circle class="t" cx="1345.0" cy="2145.0" r="21.3"/>
<circle class="t" cx="1420.0" cy="2122.5" r="21.3"/>
<circle class="t" cx="1443.8" cy="2152.5" r="21.3"/>
<circle class="d" cx="1295.0" cy="2195.0" r="21.3"/>
<circle class="t" cx="1330.0" cy="2201.2" r="21.3"/>
<circle class="t" cx="1376.2" cy="2200.0" r="21.3"/>
<circle class="t" cx="1232.5" cy="2227.5" r="21.3"/>
<circle class="t" cx="1275.0" cy="2235.0" r="21.3"/>
<circle class="t" cx="1310.0" cy="2232.5" r="21.3"/>
<circle class="d" cx="1150.0" cy="2232.5" r="21.3"/>
<circle class="t" cx="1392.5" cy="2235.0" r="21.3"/>
<circle class="y" cx="1940.0" cy="1775.0" r="21.3"/>
<circle class="y" cx="1778.8" cy="1813.8" r="21.3"/>
<circle class="y" cx="1825.0" cy="1928.8" r="21.3"/>
<circle class="y" cx="1771.2" cy="1955.0" r="21.3"/>
<circle class="y" cx="2062.5" cy="1897.5" r="21.3"/>
<circle class="y" cx="2006.2" cy="1978.8" r="21.3"/>
<circle class="y" cx="1885.0" cy="2082.5" r="21.3"/>
<circle class="y" cx="1635.0" cy="1996.2" r="21.3"/>
<circle class="t" cx="1633.8" cy="2036.2" r="21.3"/>
<circle class="y" cx="1676.2" cy="2036.2" r="21.3"/>
<circle class="y" cx="2217.7" cy="1770.3" r="21.3"/>
<circle class="y" cx="2063.4" cy="1897.0" r="21.3"/>
<circle class="t" cx="1320.0" cy="2282.5" r="21.3"/>
<circle class="d" cx="1362.5" cy="2297.5" r="21.3"/>
<circle class="d" cx="1411.6" cy="2314.7" r="21.3"/>
<circle class="d" cx="1464.2" cy="2308.4" r="21.3"/>
<circle class="d" cx="1481.1" cy="2308.4" r="21.3"/>
<circle class="d" cx="1508.4" cy="2322.1" r="21.3"/>
<circle class="d" cx="1540.0" cy="2323.2" r="21.3"/>
<circle class="d" cx="1548.4" cy="2358.9" r="21.3"/>
<circle class="d" cx="1575.8" cy="2358.9" r="21.3"/>
<circle class="d" cx="1558.9" cy="2360.0" r="21.3"/>
<circle class="d" cx="1610.5" cy="2338.9" r="21.3"/></g>
<g id="lines2"><polyline class="dl o4" stroke="#FF00FF" points="1275,2235 1420,1318 1278,1684 1345,2145 1384,1656 1501,1648 1558,1790 1396,1006 1332,1642 1540,1588 1278,1602 1458,1998 1575,1952 1548,1650 1486,1720 1280,1918 1355,1489 1329,1268 1366,1406 1232,2228 1521,1595 1399,979 1566,1728 1364,1168 1446,1505 1215,1532 1329,1589 1418,1974 1405,1594 1578,1618 1330,2201 1502,2110 1485,1492 1339,1166 1452,1898 1530,1790 1445,1114 1405,1222 1334,1428 1362,2122 1564,1265 1502,1625 1310,2232 1536,1618 1339,1888 1342,1188 1224,1728 1444,2152 1242,1776 1268,2036 1525,1695 1499,1430 1571,2018 1455,1612 1390,1111 1408,1298 1395,2015 1305,1780 1228,2032 1549,1406 1364,1942 1511,1428 1390,1696 1275,1962 1344,1522 1550,1965 1300,1855 1345,2052 1221,1902 1376,2200 1600,1930 1558,1369 1475,1772 1376,1985 1272,2075 1634,2036 1460,1162 1521,1051 1354,2080 1371,1730 1435,1778 1236,1208 1449,1088 1344,1561 1571,1330 1288,1498 1222,2090 1332,2030 1498,1204 1251,1792 1560,2048 1490,1805 1404,1800 1194,2040 1470,1595 1541,1119 1190,1836 1561,1238 1406,2028 1311,1979 1620,1758 1625,1168 1384,1344 1615,1252 1420,2122 1392,2235 1502,744 1382,1918 1345,1356 1504,2085 1452,1728 1320,2282"/>
<polyline class="dl o5" stroke="#0000FF" points="760,1631 710,2088 1022,1698 1611,2339 929,1840 911,2168 910,1768 1010,2029 721,1636 1265,2255 908,1725 1414,2285 889,1852 1150,2232 898,1692 1412,2315 898,1692 1201,2135 962,1718 1422,2275 1484,1945 1481,2308 861,1658 1360,2260 1452,1858 1208,2255 898,1692 1310,2272 1110,1850 1196,2162 1484,1945 1122,2202 861,1658 796,2095 760,1631 1360,2260 784,1672 1412,2315 884,1672 1041,2210 784,1672 1559,2360 862,1735 1422,2275 889,1852 799,2138 908,1725 1150,2232 1002,1705 729,2069 721,1636 1150,2232 945,1789 1118,2222"/>
<polyline class="dl o5" stroke="#00FF00" points="918,1598 960,968 965,1025 858,1121 988,1220 1015,1575 955,765 792,1105 920,1105 749,1120 912,1290 930,1446 731,1458 966,1421 1075,1632 748,1098 799,1066 832,1620 759,1170 1026,1650 1015,992 946,732 835,1524 884,1149 820,764 955,1139 1009,1565 864,1081 945,800 1039,1388 982,1270 952,1658 840,738 711,1220 799,765 1032,1476 1011,758 1082,905 938,1680 1112,1039 921,1155 876,1180 952,1532 1010,1450 771,1440 774,1462 886,1352 775,1215 1004,1404 995,1490 845,1508 935,835 842,1272 908,1028 1000,1372 818,1392 834,1142 860,906 1049,982 980,1448 921,1078 1002,1262 841,946 832,1088 802,904 959,1582 872,1612 930,1362 1034,948 832,1040 998,970 755,1184 845,1255 1065,1132 895,874 1025,1022 1009,1525 975,1065 839,834 1026,881 1060,1162 859,1482 895,1580 749,1345 799,1356 729,1228 970,788 926,1428 796,846 1024,1140 886,1054 902,968 980,1125 872,1000 874,1264 879,834 868,1399 821,1152 945,1208 990,1098 1020,1098 832,1055 938,1398 965,950 1101,1535 900,1482 971,1626 900,1092 930,1534 791,1608"/></g>
<g id="axes"><line class="ax" x1="222.0" y1="2014.0" x2="222.0" y2="690.5"/><line class="ax" x1="222.0" y1="2014.0" x2="1546.0" y2="2395.0"/><line class="ax" x1="1546.0" y1="2395.0" x2="2310.5" y2="1734.0"/><line class="tk" x1="222.0" y1="1881.7" x2="189.3" y2="1872.2"/><line class="tk" x1="222.0" y1="1749.3" x2="189.3" y2="1739.9"/><line class="tk" x1="222.0" y1="1617.0" x2="189.3" y2="1607.5"/><line class="tk" x1="222.0" y1="1484.6" x2="189.3" y2="1475.2"/><line class="tk" x1="222.0" y1="1352.2" x2="189.3" y2="1342.8"/><line class="tk" x1="222.0" y1="1219.9" x2="189.3" y2="1210.5"/><line class="tk" x1="222.0" y1="1087.6" x2="189.3" y2="1078.1"/><line class="tk" x1="222.0" y1="955.2" x2="189.3" y2="945.8"/><line class="tk" x1="222.0" y1="822.8" x2="189.3" y2="813.4"/><line class="tk" x1="222.0" y1="690.5" x2="189.3" y2="681.1"/><line class="tk" x1="1546.0" y1="2395.0" x2="1520.3" y2="2417.2"/><line class="tk" x1="1281.2" y1="2318.8" x2="1255.5" y2="2341.0"/><line class="tk" x1="1016.4" y1="2242.6" x2="990.7" y2="2264.8"/><line class="tk" x1="751.6" y1="2166.4" x2="725.9" y2="2188.6"/><line class="tk" x1="486.8" y1="2090.2" x2="461.1" y2="2112.4"/><line class="tk" x1="222.0" y1="2014.0" x2="196.3" y2="2036.2"/><line class="tk" x1="1546.0" y1="2395.0" x2="1578.7" y2="2404.4"/><line class="tk" x1="1698.9" y1="2262.8" x2="1731.6" y2="2272.2"/><line class="tk" x1="1851.8" y1="2130.6" x2="1884.5" y2="2140.0"/><line class="tk" x1="2004.7" y1="1998.4" x2="2037.4" y2="2007.8"/><line class="tk" x1="2157.6" y1="1866.2" x2="2190.3" y2="1875.6"/><line class="tk" x1="2310.5" y1="1734.0" x2="2343.2" y2="1743.4"/></g>
<g id="ticklabels"><text class="tl" x="170.0" y="1887.2" text-anchor="end">0.1</text>
<text class="tl" x="170.0" y="1754.9" text-anchor="end">0.2</text>
<text class="tl" x="170.0" y="1622.5" text-anchor="end">0.3</text>
<text class="tl" x="170.0" y="1490.2" text-anchor="end">0.4</text>
<text class="tl" x="170.0" y="1357.8" text-anchor="end">0.5</text>
<text class="tl" x="170.0" y="1225.5" text-anchor="end">0.6</text>
<text class="tl" x="170.0" y="1093.1" text-anchor="end">0.7</text>
<text class="tl" x="170.0" y="960.8" text-anchor="end">0.8</text>
<text class="tl" x="170.0" y="828.4" text-anchor="end">0.9</text>
<text class="tl" x="170.0" y="696.1" text-anchor="end">1</text>
<text class="tl" x="1505.0" y="2476.5" text-anchor="end">0</text>
<text class="tl" x="1240.2" y="2400.3" text-anchor="end">0.2</text>
<text class="tl" x="975.4" y="2324.1" text-anchor="end">0.4</text>
<text class="tl" x="710.6" y="2247.9" text-anchor="end">0.6</text>
<text class="tl" x="445.8" y="2171.7" text-anchor="end">0.8</text>
<text class="tl" x="181.0" y="2095.5" text-anchor="end">1</text>
<text class="tl" x="1595.0" y="2458.0">0</text>
<text class="tl" x="1747.9" y="2325.8">0.2</text>
<text class="tl" x="1900.8" y="2193.6">0.4</text>
<text class="tl" x="2053.7" y="2061.4">0.6</text>
<text class="tl" x="2206.6" y="1929.2">0.8</text>
<text class="tl" x="2359.5" y="1797.0">1</text></g>
<g id="footmask"><rect x="147.5" y="1882.6" width="9.3" height="6" fill="#fff"/><rect x="160.9" y="1882.6" width="8.5" height="6" fill="#fff"/><rect x="147.5" y="691.5" width="9.3" height="6" fill="#fff"/><rect x="160.9" y="691.5" width="8.5" height="6" fill="#fff"/><rect x="158.5" y="2090.9" width="9.3" height="6" fill="#fff"/><rect x="171.9" y="2090.9" width="8.5" height="6" fill="#fff"/><rect x="2361.5" y="1792.4" width="9.3" height="6" fill="#fff"/><rect x="2374.9" y="1792.4" width="8.5" height="6" fill="#fff"/></g>
<text class="lb" x="898" y="2439">RF/GHz</text>
<text class="lb" x="1889" y="2369.5">PW/μs</text>
<text class="lb" transform="translate(83.6,1422) rotate(-90)">PRI/μs</text>
<g id="legend"><rect x="1994" y="418" width="309" height="238" fill="#fff" stroke="#000" stroke-width="3.5"/><line class="dl" stroke="#00FFFF" x1="2006" y1="450.7" x2="2045" y2="450.7" style="stroke-dasharray:4.8 9.6;stroke-width:4.6"/><line class="dl" stroke="#00FFFF" x1="2099" y1="450.7" x2="2135" y2="450.7" style="stroke-dasharray:4.8 9.6;stroke-width:4.6"/><circle class="y" cx="2072" cy="450.7" r="21"/><text class="lg" x="2149" y="468.7">Radar1</text><line class="dl" stroke="#FF00FF" x1="2006" y1="508.7" x2="2045" y2="508.7" style="stroke-dasharray:4.8 9.6;stroke-width:4.6"/><line class="dl" stroke="#FF00FF" x1="2099" y1="508.7" x2="2135" y2="508.7" style="stroke-dasharray:4.8 9.6;stroke-width:4.6"/><circle class="t" cx="2072" cy="508.7" r="21"/><text class="lg" x="2149" y="526.7">Radar2</text><line class="dl" stroke="#0000FF" x1="2006" y1="566.7" x2="2045" y2="566.7" style="stroke-dasharray:4.8 9.6;stroke-width:4.6"/><line class="dl" stroke="#0000FF" x1="2099" y1="566.7" x2="2135" y2="566.7" style="stroke-dasharray:4.8 9.6;stroke-width:4.6"/><circle class="d" cx="2072" cy="566.7" r="21"/><text class="lg" x="2149" y="584.7">Radar3</text><line class="dl" stroke="#00FF00" x1="2006" y1="623.8" x2="2045" y2="623.8" style="stroke-dasharray:4.8 9.6;stroke-width:4.6"/><line class="dl" stroke="#00FF00" x1="2099" y1="623.8" x2="2135" y2="623.8" style="stroke-dasharray:4.8 9.6;stroke-width:4.6"/><circle class="p" cx="2072" cy="623.8" r="21"/><text class="lg" x="2149" y="641.8">Radar4</text></g>
</svg>
</body></html>
